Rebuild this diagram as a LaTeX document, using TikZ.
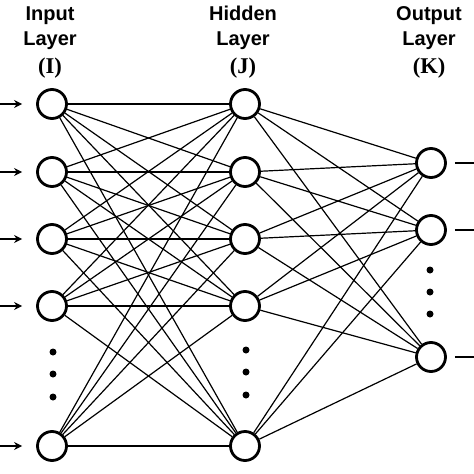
\documentclass[tikz,border=0pt]{standalone}
\usepackage{fontspec}
\setmainfont{Liberation Serif}
\setsansfont{Liberation Sans}
\usetikzlibrary{arrows.meta}
\begin{document}
\begin{tikzpicture}[x=1pt,y=-1pt,
  neuron/.style={circle,draw=black,line width=2.8pt,fill=white,minimum size=29pt,inner sep=0pt},
  conn/.style={line width=1.2pt,black},
  dotn/.style={circle,fill=black,minimum size=7pt,inner sep=0pt},
  lbl/.style={font=\sffamily\bfseries\fontsize{20}{24}\selectfont,anchor=base},
  lblid/.style={font=\rmfamily\bfseries\fontsize{22.5}{24}\selectfont,anchor=base},
  inarrow/.style={line width=1.4pt,-{Stealth[length=8pt,width=8pt]}},
  outline/.style={line width=1.4pt}]
\useasboundingbox (0,0) rectangle (474,474);
% labels
\node[lbl] (tin1) at (50,20) {Input};
\node[lbl] (tin2) at (50,45) {Layer};
\node[lblid] (tin3) at (50,73) {(I)};
\node[lbl] (thd1) at (243,20) {Hidden};
\node[lbl] (thd2) at (243,45) {Layer};
\node[lblid] (thd3) at (243,73) {(J)};
\node[lbl] (tou1) at (429,20) {Output};
\node[lbl] (tou2) at (429,45) {Layer};
\node[lblid] (tou3) at (429,73) {(K)};
% nodes
\foreach \n/\y in {1/104,2/172,3/239,4/306,5/446}
  \node[neuron] (i\n) at (52,\y) {};
\foreach \n/\y in {1/104,2/172,3/239,4/306,5/446}
  \node[neuron] (h\n) at (245,\y) {};
\foreach \n/\y in {1/163,2/230,3/357}
  \node[neuron] (o\n) at (431,\y) {};
% connections
\foreach \a in {1,...,5}
  \foreach \b in {1,...,5}
    \draw[conn] (i\a) -- (h\b);
\foreach \a in {1,...,5}
  \foreach \b in {1,...,3}
    \draw[conn] (h\a) -- (o\b);
% dots
\foreach \k/\y in {1/352,2/374,3/397}
  \node[dotn] (di\k) at (53,\y) {};
\foreach \k/\y in {1/350,2/372,3/395}
  \node[dotn] (dh\k) at (246,\y) {};
\foreach \k/\y in {1/270,2/292,3/314}
  \node[dotn] (do\k) at (430,\y) {};
% input arrows
\foreach \n/\y in {1/104,2/172,3/239,4/306,5/446} {
  \coordinate (ia\n) at (0,\y);
  \draw[inarrow] (ia\n) -- ([xshift=-14pt]i\n.west);
}
% output lines
\foreach \n/\y in {1/163,2/230,3/357} {
  \coordinate (oe\n) at (474,\y);
  \draw[outline] ([xshift=8pt]o\n.east) -- (oe\n);
}
\end{tikzpicture}
\end{document}
